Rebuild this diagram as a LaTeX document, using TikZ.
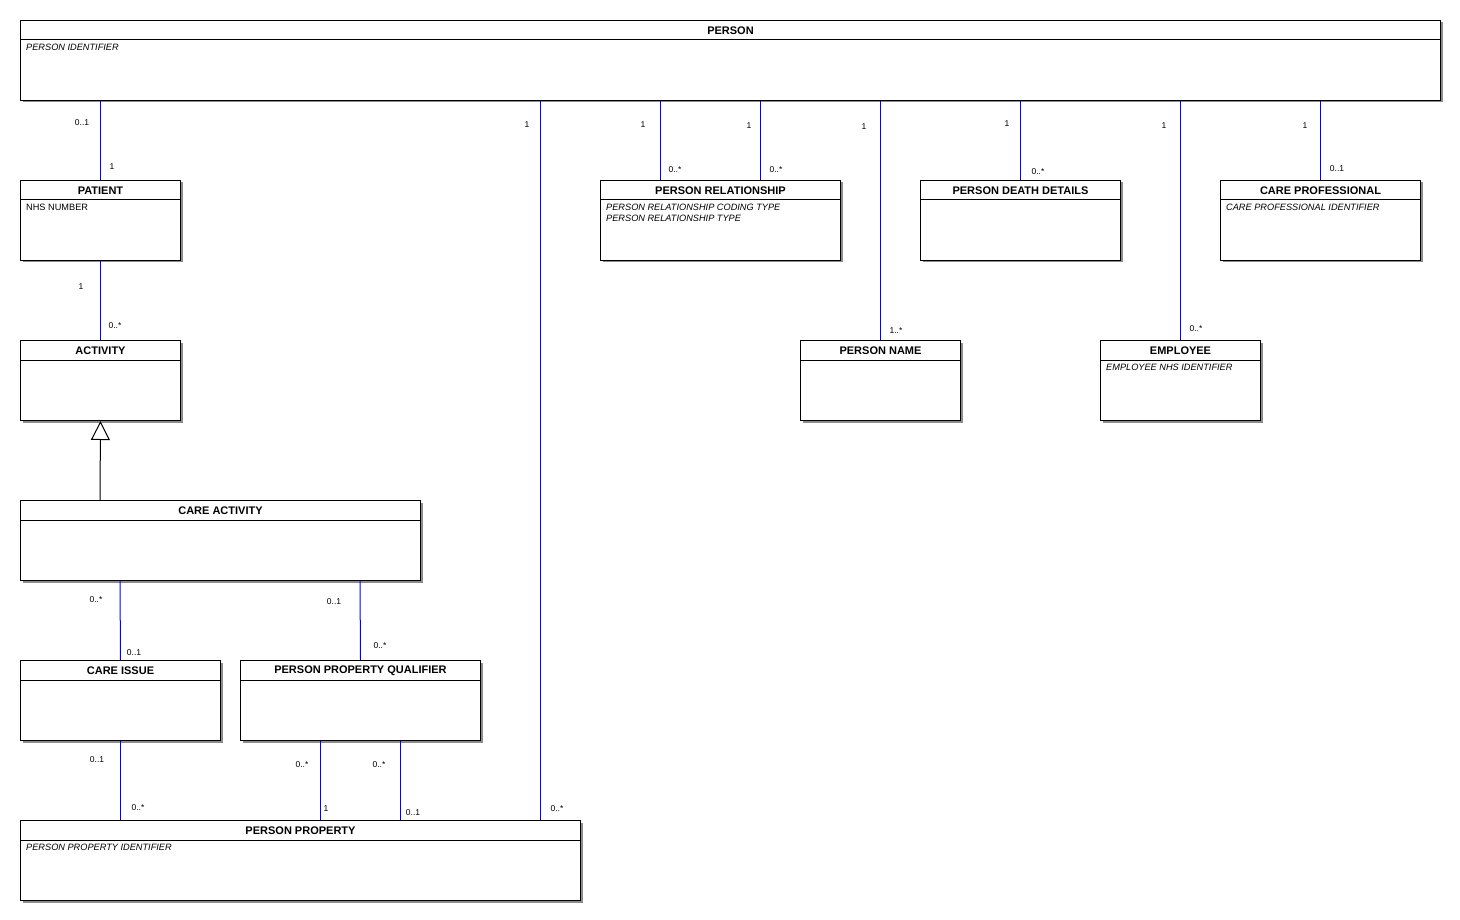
\documentclass[tikz,border=0pt]{standalone}
\usepackage{fontspec}
\setmainfont{Liberation Sans}
\usetikzlibrary{arrows.meta,shadows,calc}
\tikzset{
  x=1pt,y=-1pt,
  entity/.style={draw=black,line width=1pt,fill=white,anchor=north west,minimum height=80pt,inner sep=0pt,
    drop shadow={shadow xshift=2pt,shadow yshift=-2pt,fill=black!45,opacity=1}},
  ttl/.style={font=\bfseries\fontsize{11}{12}\selectfont,inner sep=0pt},
  attr/.style={font=\itshape\fontsize{9.2}{11}\selectfont,inner sep=0pt,anchor=north west,align=left},
  assoc/.style={draw=blue,line width=1pt},
  mult/.style={font=\fontsize{8.5}{9}\selectfont,inner sep=0pt},
}
\newcommand\entbox[6]{%
  \node[entity,minimum width=#4pt] (#1) at (#2,#3) {};
  \draw[line width=1pt] ([yshift=-20pt]#1.north west) -- ([yshift=-20pt]#1.north east);
  \node[ttl] at ([yshift=-10.5pt]#1.north) {#5};
  \node[attr] at ([xshift=6pt,yshift=-24pt]#1.north west) {#6};
}
\begin{document}
\begin{tikzpicture}
\useasboundingbox[fill=white] (0,0) rectangle (1460,920);
\entbox{person}{20}{20}{1420}{PERSON}{PERSON IDENTIFIER}
\entbox{patient}{20}{180}{160}{PATIENT}{\upshape NHS NUMBER}
\entbox{activity}{20}{340}{160}{ACTIVITY}{}
\entbox{careact}{20}{500}{400}{CARE ACTIVITY}{}
\entbox{issue}{20}{660}{200}{CARE ISSUE}{}
\entbox{ppq}{240}{660}{240}{PERSON PROPERTY QUALIFIER}{}
\entbox{pp}{20}{820}{560}{PERSON PROPERTY}{PERSON PROPERTY IDENTIFIER}
\entbox{prel}{600}{180}{240}{PERSON RELATIONSHIP}{PERSON RELATIONSHIP CODING TYPE\\PERSON RELATIONSHIP TYPE}
\entbox{pdd}{920}{180}{200}{PERSON DEATH DETAILS}{}
\entbox{cprof}{1220}{180}{200}{CARE PROFESSIONAL}{CARE PROFESSIONAL IDENTIFIER}
\entbox{pname}{800}{340}{160}{PERSON NAME}{}
\entbox{emp}{1100}{340}{160}{EMPLOYEE}{EMPLOYEE NHS IDENTIFIER}

% associations
\draw[assoc] (patient.north |- person.south) -- (patient.north);
\draw[assoc] (patient.south) -- (activity.north);
\draw[assoc] ([xshift=100pt]careact.south west) -- (issue.north);
\draw[assoc] ([xshift=340pt]careact.south west) -- (ppq.north);
\draw[assoc] ([xshift=100pt]pp.north west |- issue.south) -- ([xshift=100pt]pp.north west);
\draw[assoc] ([xshift=80pt]ppq.south west) -- ([xshift=80pt]ppq.south west |- pp.north);
\draw[assoc] ([xshift=160pt]ppq.south west) -- ([xshift=160pt]ppq.south west |- pp.north);
\draw[assoc] ([xshift=520pt]pp.north west |- person.south) -- ([xshift=520pt]pp.north west);
\draw[assoc] ([xshift=60pt]prel.north west |- person.south) -- ([xshift=60pt]prel.north west);
\draw[assoc] ([xshift=160pt]prel.north west |- person.south) -- ([xshift=160pt]prel.north west);
\draw[assoc] (pname.north |- person.south) -- (pname.north);
\draw[assoc] (pdd.north |- person.south) -- (pdd.north);
\draw[assoc] (emp.north |- person.south) -- (emp.north);
\draw[assoc] (cprof.north |- person.south) -- (cprof.north);

% generalization
\draw[line width=1pt,-{Triangle[open,length=19pt,width=19pt,line width=1pt]}] ([xshift=80pt]careact.north west) -- (activity.south);

% multiplicities
\node[mult] at (82,123) {0..1};
\node[mult] at (112,167) {1};
\node[mult] at (81,287) {1};
\node[mult] at (115,326) {0..*};
\node[mult] at (96,600) {0..*};
\node[mult] at (134,653) {0..1};
\node[mult] at (334,602) {0..1};
\node[mult] at (380,646) {0..*};
\node[mult] at (97,760) {0..1};
\node[mult] at (138,808) {0..*};
\node[mult] at (302,765) {0..*};
\node[mult] at (326,809) {1};
\node[mult] at (379,765) {0..*};
\node[mult] at (413,813) {0..1};
\node[mult] at (527,125) {1};
\node[mult] at (557,809) {0..*};
\node[mult] at (643,125) {1};
\node[mult] at (675,170) {0..*};
\node[mult] at (749,126) {1};
\node[mult] at (776,170) {0..*};
\node[mult] at (864,127) {1};
\node[mult] at (896,331) {1..*};
\node[mult] at (1007,124) {1};
\node[mult] at (1038,172) {0..*};
\node[mult] at (1164,126) {1};
\node[mult] at (1196,329) {0..*};
\node[mult] at (1305,126) {1};
\node[mult] at (1337,169) {0..1};
\end{tikzpicture}
\end{document}
